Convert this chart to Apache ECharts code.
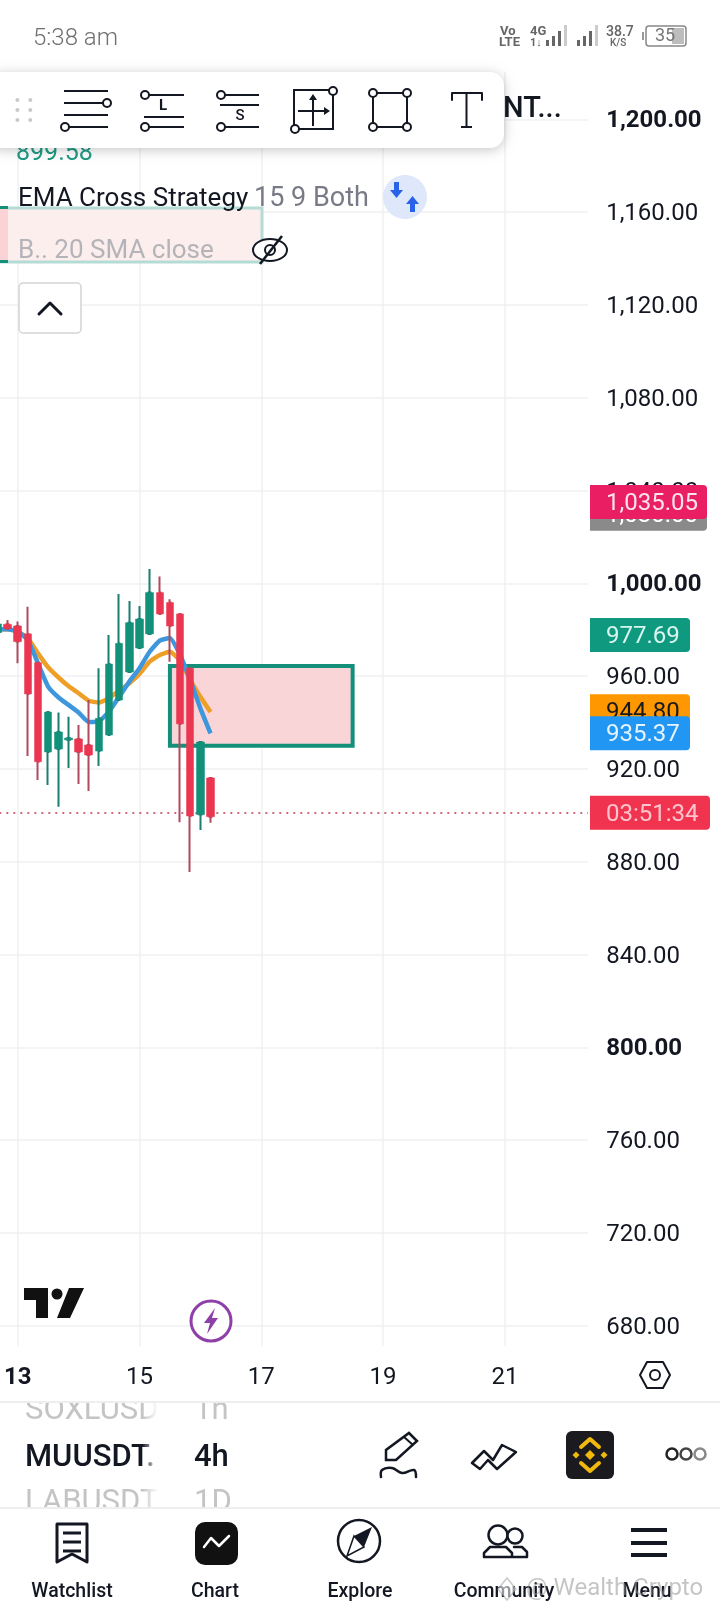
<!DOCTYPE html>
<html><head><meta charset="utf-8">
<style>html,body{margin:0;padding:0;background:#fff}#c{width:720px;height:1611px}</style>
<script src="https://cdn.jsdelivr.net/npm/echarts@6/dist/echarts.min.js"></script>
</head><body><div id="c"></div>
<script>
// ---- data ----
const dayLabels = ['13','15','17','19','21'];
const boldDays = ['13'];
const boldPrices = [1200,1000,800];
const opens  = [978.7,982.3,981.6,978.2,965.8,927.3,928.6,932.5,932.9,930.3,927.7,934.6,949.7,961.8,972.1,978.2,996.0,991.7,986.8,963.4,900.3,916.1];
const closes = [982.5,980.5,974.9,952.3,923.1,944.5,935.9,933.3,927.3,926.0,941.8,965.2,974.1,983.0,984.6,996.0,986.8,981.6,939.4,899.7,931.6,899.4];
const lows   = [978.0,979.9,965.5,925.6,915.2,913.1,903.7,920.4,913.5,910.5,921.3,934.6,949.7,961.8,972.1,978.2,986.8,966.2,897.0,875.6,893.7,896.8];
const highs  = [983.5,984.2,983.5,989.9,965.8,944.5,944.3,942.5,938.9,949.7,963.4,977.7,995.4,992.4,990.2,1006.2,1002.9,993.1,986.8,963.4,931.6,916.1];
const emaSlow = [980.2,980.2,979.2,976.3,969.8,963.8,959.5,955.7,952.6,949.4,948.6,950.6,953.7,956.9,960.9,966.2,969.1,970.5,966.7,958.3,951.1,944.5];
const emaFast = [980.2,980.2,979.2,975.6,965.5,955.5,950.9,947.6,944.3,940.2,940.5,944.7,951.1,957.6,963.4,970.5,975.3,976.4,969.1,958.3,946.1,935.3];
const zoneStartIdx = 17, zoneEndIdx = 35, zoneTop = 964.4, zoneBottom = 930;
const lastPriceLine = 901.1;
const tagPrices = [1030, 1035.05, 977.69, 944.80, 935.37, 901.1];
const tagTexts  = ['1,030.00','1,035.05','977.69','944.80','935.37','03:51:34'];
const tagFills  = ['#8a8a8a','#e91e63','#0f9a80','#ff9800','#2196f3','#f0344f'];
const tagInks   = ['#ffffff','#fde3ec','#d9f5ee','#1a1a1a','#e6f4ff','#ffc4cd'];
const tagRights = [707,707,690,690,690,710];
// categories: one per 4h candle, first one is the 12th 16:00
const categories = [];
for (let i = 0, d = 12, h = 16; i < 59; i++) {
  categories.push(d + ' ' + String(h).padStart(2,'0') + ':00');
  h += 4; if (h === 24) { h = 0; d++; }
}
const isDayTick = (i, v) => dayLabels.includes(String(v).split(' ')[0]) && String(v).endsWith(' 00:00');

const FONT = 'Roboto';
const INK = '#131722';
const G = [];
const L = (x1,y1,x2,y2,c=INK,w=2,z=60)=>G.push({type:'line',z,shape:{x1,y1,x2,y2},style:{stroke:c,lineWidth:w}});
const C = (cx,cy,r,stroke=INK,w=2,fill='#fff',z=60)=>G.push({type:'circle',z,shape:{cx,cy,r},style:{stroke,lineWidth:w,fill}});
const R = (x,y,width,height,fill,rr=0,stroke=null,w=0,z=60,extra={})=>G.push({type:'rect',z,shape:{x,y,width,height,r:rr},style:Object.assign({fill,stroke,lineWidth:w},extra)});
const T = (text,x,y,size,fill=INK,weight=400,align='left',z=60)=>G.push({type:'text',z,x,y:y+2.5,style:{text,fill,font:weight+' '+size+'px '+FONT,align,verticalAlign:'middle'}});
const PL = (points,c=INK,w=2,z=60,smooth=0)=>G.push({type:'polyline',z,shape:{points,smooth},style:{stroke:c,lineWidth:w,fill:null,lineJoin:'round',lineCap:'round'}});
const PG = (points,fill,z=60,stroke=null,w=0)=>G.push({type:'polygon',z,shape:{points},style:{fill,stroke,lineWidth:w}});

// covers that bound the plot
R(0,0,720,72,'#fff',0,null,0,30);
R(0,1346,720,265,'#fff',0,null,0,30);
R(588,72,14,1274,'#fff',0,null,0,30);

// status bar
T('5:38 am',33,36,24,'#6f6f6f',300);
T('Vo',500,29,13,'#666',700); T('LTE',499,40,13,'#666',700);
T('4G',530,29,13,'#666',700); T('1↓',530,41,11,'#666',700);
[[546,6],[552,10],[558,15],[564,21]].forEach(([x,h],i)=>R(x,46-h,3,h,i===3?'#ccc':'#666'));
[[577,6],[583,10],[589,15],[595,21]].forEach(([x,h],i)=>R(x,46-h,3,h,i===3?'#ccc':'#666'));
T('38.7',606,30,14,'#666',500); T('K/S',610,41,10,'#666',500);
R(646,26,40,20,'#fff',3,'#888',1.5); R(642,32,2,8,'#999');
R(672,28,12,16,'#bdbdbd'); T('35',655,34,18,'#777',400);

// legend area under the toolbar
T('899.58',16,151,25,'#1f9a84',400,'left',55);
T('EMA Cross Strategy',18,196.5,26,INK);
T('15 9 Both',254,196.5,27,'#787b86');
G.push({type:'ellipse',z:60,shape:{cx:405,cy:197,rx:22,ry:22},style:{fill:'#dfe8fb'}});
PG([[394,182],[399,182],[399,190],[403,190],[396.5,198],[390,190],[394,190]],'#2962e8');
PG([[410,212],[415,212],[415,204],[419,204],[412.5,196],[406,204],[410,204]],'#2962e8');
R(0,208,262,54,'#fdeeee',0,'#b4dcd5',3,33);
R(0,207,8,56,'#fbd3d6',0,null,0,33); R(0,206,8,3,'#14907a',0,null,0,33); R(0,260,8,3,'#14907a',0,null,0,33);
T('B.. 20 SMA close',18,249,26,'#b4b4b8');
G.push({type:'ellipse',z:60,shape:{cx:270,cy:250,rx:17,ry:11},style:{stroke:INK,lineWidth:2,fill:'#fff'}});
C(270,250,5,INK,2); L(260,264,282,236,INK,2.5);
R(19,283,62,50,'#fff',4,'#d4d4d8',1.5);
PL([[39,314],[50,303],[61,314]],INK,3);

// floating toolbar
R(-12,72,516,76,'#fff',14,null,0,58,{shadowBlur:12,shadowColor:'rgba(0,0,0,0.22)',shadowOffsetY:2});
[17.4,30.3].forEach(x=>[100,110,120].forEach(y=>G.push({type:'circle',z:60,shape:{cx:x,cy:y,r:2},style:{fill:'#c9c9c9'}})));
L(64,91,108,91); L(64,103,103,103); L(64,115,108,115); L(69,127,108,127); C(107,103,4); C(65,127,4);
L(149,95,184,95); L(144,117,184,117); L(149,127,184,127); C(145,95,4); C(145,127,4); T('L',163,104,15,INK,700,'center');
L(225,95,259,95); L(220,105,259,105); L(225,127,259,127); C(221,95,4); C(221,127,4); T('S',240,114,15,INK,500,'center');
R(294,90,39,39,'#fff',0,INK,2); L(313,98,313,126); L(298,111,326,111);
PG([[313,94],[317,100],[309,100]],INK); PG([[330,111],[324,107],[324,115]],INK); C(333,91,4); C(295,129,4);
R(373,93,34,34,'#fff',0,INK,2); [[373,93],[407,93],[373,127],[407,127]].forEach(([x,y])=>C(x,y,4));
PL([[452,100],[452,93],[482,93],[482,100]],INK,2); L(466.5,93,466.5,127); L(461,127,472,127);
T('NT...',503,107,29,INK,500);

// logo and flash
G.push({type:'polygon',z:60,shape:{points:[[24,1288],[48,1288],[48,1318],[36,1318],[36,1300],[24,1300]]},style:{fill:'#111'}});
G.push({type:'circle',z:60,shape:{cx:57,cy:1294,r:5.5},style:{fill:'#111'}});
PG([[84,1288],[69,1288],[57,1318],[70,1318]],'#111');
C(211,1321,20,'#8e3fa8',3,'#fff');
PG([[215,1308],[204,1323],[210,1323],[207,1334],[218,1318],[212,1318]],'#8e3fa8');

// hexagon settings
PL([[647,1362],[663,1362],[670,1375],[663,1388],[647,1388],[640,1375],[647,1362]],INK,2,40);
C(655,1375,5,INK,2,'#fff',40);

// symbol panel
L(0,1402,720,1402,'#eeeeee',2,36);
T('SOXLUSDT.',25,1409,31,'#c4c4c4',400,'left',31);
T('1h',194,1409,31,'#c4c4c4',400,'left',31);
T('MUUSDT.',25,1456,31,INK,500,'left',31);
T('4h',194,1456,31,INK,500,'left',31);
T('LABUSDT.',25,1501,31,'#c4c4c4',400,'left',31);
T('1D',194,1501,31,'#c4c4c4',400,'left',31);
R(0,1385,240,16,'#fff',0,null,0,32);
R(0,1507,240,20,'#fff',0,null,0,32);
G.push({type:'rect',z:32,shape:{x:142,y:1395,width:18,height:120},style:{fill:{type:'linear',x:0,y:0,x2:1,y2:0,colorStops:[{offset:0,color:'rgba(255,255,255,0)'},{offset:.9,color:'#fff'},{offset:1,color:'#fff'}]}}});
R(160,1395,30,120,'#fff',0,null,0,32);
L(0,1508,720,1508,'#eeeeee',2,36);

// pencil
PG([[386,1460],[386,1450],[409,1433],[417,1441],[396,1460]],'#fff',60,INK,2.5);
L(404,1437,413,1445,INK,2);
PL([[381,1477],[382,1470],[392,1468],[402,1473],[414,1470],[416,1477]],INK,2.5,60,0.4);
// linked chart icon
PL([[472,1463],[484,1451],[493,1460],[502,1445],[516,1452],[497,1469],[488,1460],[480,1469],[472,1463]],INK,2.5);
// exchange tile
R(566,1431,48,48,'#1b1b1f',6);
const GOLD='#f0b90b';
[[590,1455,5],[576,1455,3.5],[604,1455,3.5]].forEach(([x,y,r])=>PG([[x,y-r],[x+r,y],[x,y+r],[x-r,y]],GOLD));
PL([[581,1447],[590,1439],[599,1447]],GOLD,4); PL([[581,1463],[590,1471],[599,1463]],GOLD,4);
// dots
C(672,1454,5.5,'#222',2.5); C(686,1454,5.5,'#444',2.5); C(700,1454,5.5,'#888',2.5);

// bottom nav
PL([[57,1524],[87,1524],[87,1562],[72,1554],[57,1562],[57,1524]],INK,3);
L(63,1533,81,1533,INK,3); L(63,1542,81,1542,INK,3); L(63,1551,81,1551,INK,3);
R(195,1522,43,43,'#111',10);
PL([[204,1547],[211,1538],[219,1546],[229,1536]],'#fff',2.5);
C(359,1541,21,INK,2.5);
PG([[372,1527],[364,1547],[347,1556],[354,1536]],INK);
PG([[354,1536],[364,1547],[347,1556]],'#fff',61,INK,1.5);
C(498,1535,9.5,INK,2.5); C(515,1536,7.5,INK,2.5);
PL([[484,1557],[484,1553],[490,1547],[506,1547],[512,1553],[512,1557],[484,1557]],INK,2.5);
PL([[514,1547],[522,1547],[527,1552],[527,1557],[513,1557]],INK,2.5);
R(631,1528,36,4,INK); R(631,1541,36,4,INK); R(631,1553,36,4,INK);
[['Watchlist',72],['Chart',215],['Explore',360],['Community',504],['Menu',647]].forEach(([s,x])=>T(s,x,1589.5,19.5,INK,500,'center'));
T('@ Wealth Crypto',526,1586,24,'rgba(150,150,150,0.55)',400,'left',62);
G.push({type:'polygon',z:62,shape:{points:[[507,1578],[516,1589],[507,1600],[498,1589]]},style:{fill:'rgba(255,255,255,0.55)',stroke:'rgba(150,150,150,0.5)',lineWidth:1.5}});

const wickColorUp='#1a7f70', wickColorDown='#b04a5e', bodyUp='#12907a', bodyDown='#ea3650';
const ohlc = opens.map((o,i)=>[o,closes[i],lows[i],highs[i]]);
const bodies = opens.map((o,i)=>[o,closes[i],Math.min(o,closes[i]),Math.max(o,closes[i])]);

const chart = echarts.init(document.getElementById('c'),null,{renderer:'canvas'});
chart.setOption({
  animation:false, backgroundColor:'#fff',
  textStyle:{fontFamily:FONT},
  grid:{left:-7.7,top:26.5,width:598.85,height:1392,containLabel:false,outerBoundsMode:'none'},
  xAxis:[
    {type:'category',data:categories,boundaryGap:true,axisLine:{show:false},axisTick:{show:false},axisLabel:{show:false,interval:isDayTick},
      splitLine:{show:true,interval:isDayTick,alignWithLabel:true,lineStyle:{color:'#eff0f3',width:1.5}}},
    {type:'category',data:categories,boundaryGap:true,position:'bottom',offset:-53,z:50,axisLine:{show:false},axisTick:{show:false},splitLine:{show:false},
      axisLabel:{show:true,interval:isDayTick,margin:0,hideOverlap:false,color:INK,fontSize:24,fontFamily:FONT,
        formatter:v=>{const d=String(v).split(' ')[0];return boldDays.includes(d)?'{b|'+d+'}':d;},
        rich:{b:{fontWeight:700,fontSize:24,fontFamily:FONT,color:INK}}}}
  ],
  yAxis:{type:'value',min:640,max:1240,interval:40,position:'right',axisLine:{show:false},axisTick:{show:false},
    splitLine:{show:true,lineStyle:{color:'#eff0f3',width:1.5}},
    axisLabel:{margin:15,color:INK,fontSize:24,fontFamily:FONT,align:'left',padding:[4,0,0,0],
      formatter:v=>{
        if(v<680||v>1200) return '';
        const s=v.toLocaleString('en-US',{minimumFractionDigits:2,maximumFractionDigits:2});
        return boldPrices.includes(v)?'{b|'+s+'}':s;},
      rich:{b:{fontWeight:700,fontSize:24,fontFamily:FONT,color:INK}}}},
  series:[
    {name:'EMA 15',type:'line',data:emaSlow,z:2,showSymbol:false,smooth:0.15,lineStyle:{color:'#ee9f28',width:4.5},
      markArea:{silent:true,z:1,itemStyle:{color:'#f9d5d8',borderColor:'#14907a',borderWidth:4},
        data:[[{coord:[zoneStartIdx,zoneTop]},{coord:[zoneEndIdx,zoneBottom]}]]},
      markLine:{silent:true,z:1,symbol:'none',label:{show:false},lineStyle:{color:'#c2394f',width:1.5,type:[2,5]},data:[{yAxis:lastPriceLine}]}},
    {name:'EMA 9',type:'line',data:emaFast,z:2,showSymbol:false,smooth:0.15,lineStyle:{color:'#3e96dc',width:4.5}},
    {name:'Wicks',type:'candlestick',data:ohlc,z:3,barWidth:2,itemStyle:{color:wickColorUp,color0:wickColorDown,borderColor:wickColorUp,borderColor0:wickColorDown,borderWidth:2}},
    {name:'Bodies',type:'candlestick',data:bodies,z:4,barWidth:8,itemStyle:{color:bodyUp,color0:bodyDown,borderColor:bodyUp,borderColor0:bodyDown,borderWidth:0.5}},
    {name:'Price tags',type:'custom',z:40,clip:false,silent:true,encode:{x:0,y:1},
      data:tagPrices.map(p=>[0,p]),
      renderItem:(params,api)=>{
        const i=params.dataIndex, y=api.coord([0,api.value(1)])[1], x=590;
        return {type:'group',children:[
          {type:'rect',z2:i*2,shape:{x,y:y-17,width:tagRights[i]-x,height:34,r:[0,4,4,0]},style:{fill:tagFills[i]}},
          {type:'text',z2:i*2+1,style:{text:tagTexts[i],x:606,y:y+2,fill:tagInks[i],font:'400 24px '+FONT,align:'left',verticalAlign:'middle'}}
        ]};
      }}
  ],
  graphic:{elements:G}
});
</script></body></html>
